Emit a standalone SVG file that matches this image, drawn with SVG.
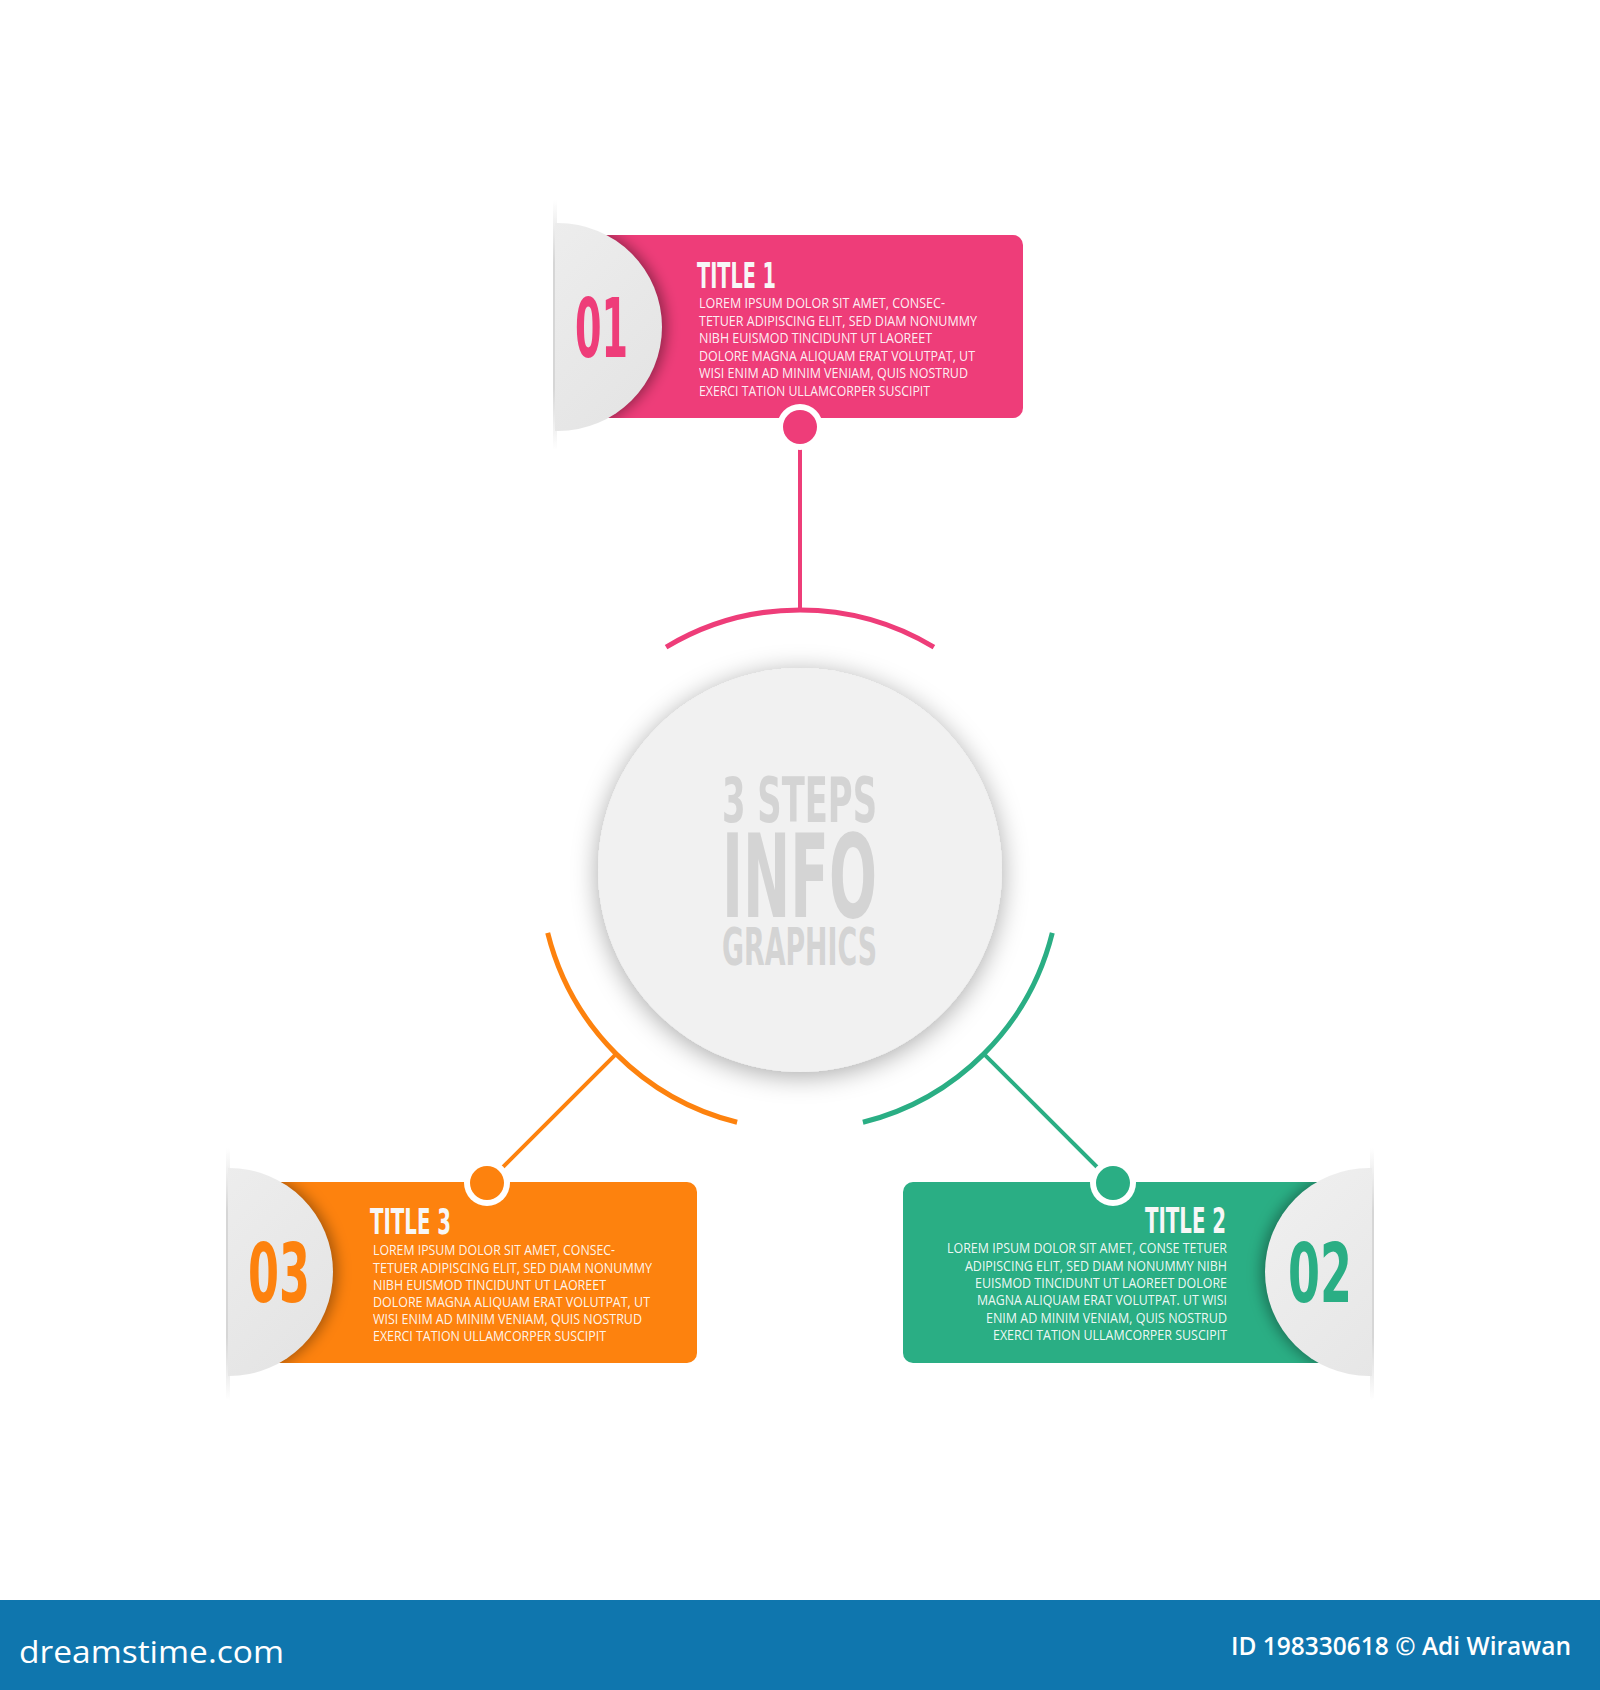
<svg xmlns="http://www.w3.org/2000/svg" width="1600" height="1690" viewBox="0 0 1600 1690">
<style>
.body{font-family:"Open Sans","Liberation Sans",sans-serif;font-size:15px;fill:#ffffff;fill-opacity:0.93}
.title{font-family:"DejaVu Sans Condensed","DejaVu Sans",sans-serif;font-weight:bold;font-size:35px;fill:#f7f7f7}
.num{font-family:"DejaVu Sans Condensed","DejaVu Sans",sans-serif;font-weight:bold;font-size:82px}
.ctr{font-family:"DejaVu Sans Condensed","DejaVu Sans",sans-serif;font-weight:bold;fill:#d4d4d4}
.arc{fill:none;stroke-width:5;stroke-linecap:butt}
.lnk{stroke-width:4;fill:none}
.ring{fill:#ffffff}
.disc{fill:url(#discGrad)}
.strip{fill:url(#stripGrad)}
.pink{fill:#ee3d79}
.orange{fill:#fd820e}
.green{fill:#2aae84}
</style>
<defs>
<linearGradient id="stripGrad" x1="0" y1="0" x2="0" y2="1">
<stop offset="0" stop-color="#ffffff"/>
<stop offset="0.25" stop-color="#d6d6d6"/>
<stop offset="0.75" stop-color="#d6d6d6"/>
<stop offset="1" stop-color="#ffffff"/>
</linearGradient>
<linearGradient id="discGrad" x1="0" y1="0" x2="1" y2="1">
<stop offset="0" stop-color="#f0f0f0"/>
<stop offset="1" stop-color="#e3e3e3"/>
</linearGradient>
<filter id="blur6" x="-30%" y="-30%" width="160%" height="160%">
<feGaussianBlur stdDeviation="7"/>
</filter>
<filter id="ctrShadow" x="-30%" y="-30%" width="160%" height="160%">
<feDropShadow dx="0" dy="4" stdDeviation="13" flood-color="#000000" flood-opacity="0.34"/>
</filter>
<clipPath id="clipBox1"><rect x="590" y="235" width="433" height="183" rx="10"/></clipPath>
<clipPath id="clipDisc1"><rect x="555" y="180" width="200" height="300"/></clipPath>
<clipPath id="clipBox3"><rect x="262" y="1182" width="435" height="181" rx="10"/></clipPath>
<clipPath id="clipDisc3"><rect x="228" y="1130" width="200" height="300"/></clipPath>
<clipPath id="clipBox2"><rect x="903" y="1182" width="433" height="181" rx="10"/></clipPath>
<clipPath id="clipDisc2"><rect x="1172" y="1130" width="200" height="300"/></clipPath>
</defs>
<rect x="0" y="0" width="1600" height="1690" fill="#ffffff"/>

<g id="center">
<circle cx="800" cy="870" r="202" fill="#f1f1f1" filter="url(#ctrShadow)"/>
<text class="ctr" x="722" y="822" font-size="62" textLength="155" lengthAdjust="spacingAndGlyphs">3 STEPS</text>
<text class="ctr" x="722" y="917" font-size="115" textLength="155" lengthAdjust="spacingAndGlyphs">INFO</text>
<text class="ctr" x="722" y="965" font-size="51" textLength="155" lengthAdjust="spacingAndGlyphs">GRAPHICS</text>
</g>

<g id="step1">
<rect class="pink" x="590" y="235" width="433" height="183" rx="10"/>
<g clip-path="url(#clipBox1)"><circle cx="562" cy="327" r="104" fill="#000000" fill-opacity="0.4" filter="url(#blur6)"/></g>
<rect class="strip" x="553" y="200" width="4" height="250"/>
<circle class="disc" cx="558" cy="327" r="104" clip-path="url(#clipDisc1)"/>
<text class="num pink" x="575" y="357" textLength="53" lengthAdjust="spacingAndGlyphs">01</text>
<text class="title" x="697" y="288" textLength="79" lengthAdjust="spacingAndGlyphs">TITLE 1</text>
<text class="body" x="699" y="308" textLength="246" lengthAdjust="spacingAndGlyphs">LOREM IPSUM DOLOR SIT AMET, CONSEC-</text>
<text class="body" x="699" y="325.5" textLength="278" lengthAdjust="spacingAndGlyphs">TETUER ADIPISCING ELIT, SED DIAM NONUMMY</text>
<text class="body" x="699" y="343" textLength="233" lengthAdjust="spacingAndGlyphs">NIBH EUISMOD TINCIDUNT UT LAOREET</text>
<text class="body" x="699" y="360.5" textLength="276" lengthAdjust="spacingAndGlyphs">DOLORE MAGNA ALIQUAM ERAT VOLUTPAT, UT</text>
<text class="body" x="699" y="378" textLength="269" lengthAdjust="spacingAndGlyphs">WISI ENIM AD MINIM VENIAM, QUIS NOSTRUD</text>
<text class="body" x="699" y="395.5" textLength="231" lengthAdjust="spacingAndGlyphs">EXERCI TATION ULLAMCORPER SUSCIPIT</text>
</g>

<g id="step3">
<rect class="orange" x="262" y="1182" width="435" height="181" rx="10"/>
<g clip-path="url(#clipBox3)"><circle cx="233" cy="1272" r="104" fill="#000000" fill-opacity="0.35" filter="url(#blur6)"/></g>
<rect class="strip" x="226" y="1148" width="4" height="252"/>
<circle class="disc" cx="229" cy="1272" r="104" clip-path="url(#clipDisc3)"/>
<text class="num orange" x="248" y="1302" textLength="62" lengthAdjust="spacingAndGlyphs">03</text>
<text class="title" x="370" y="1234" textLength="81" lengthAdjust="spacingAndGlyphs">TITLE 3</text>
<text class="body" x="373" y="1255" textLength="242" lengthAdjust="spacingAndGlyphs">LOREM IPSUM DOLOR SIT AMET, CONSEC-</text>
<text class="body" x="373" y="1272.5" textLength="279" lengthAdjust="spacingAndGlyphs">TETUER ADIPISCING ELIT, SED DIAM NONUMMY</text>
<text class="body" x="373" y="1290" textLength="233" lengthAdjust="spacingAndGlyphs">NIBH EUISMOD TINCIDUNT UT LAOREET</text>
<text class="body" x="373" y="1307" textLength="277" lengthAdjust="spacingAndGlyphs">DOLORE MAGNA ALIQUAM ERAT VOLUTPAT, UT</text>
<text class="body" x="373" y="1324" textLength="269" lengthAdjust="spacingAndGlyphs">WISI ENIM AD MINIM VENIAM, QUIS NOSTRUD</text>
<text class="body" x="373" y="1341" textLength="233" lengthAdjust="spacingAndGlyphs">EXERCI TATION ULLAMCORPER SUSCIPIT</text>
</g>

<g id="step2">
<rect class="green" x="903" y="1182" width="433" height="181" rx="10"/>
<g clip-path="url(#clipBox2)"><circle cx="1365" cy="1272" r="104" fill="#000000" fill-opacity="0.35" filter="url(#blur6)"/></g>
<rect class="strip" x="1370" y="1148" width="4" height="252"/>
<circle class="disc" cx="1369" cy="1272" r="104" clip-path="url(#clipDisc2)"/>
<text class="num green" x="1288" y="1302" textLength="64" lengthAdjust="spacingAndGlyphs">02</text>
<text class="title" x="1145" y="1233" textLength="81" lengthAdjust="spacingAndGlyphs">TITLE 2</text>
<text class="body" x="947" y="1253" textLength="280" lengthAdjust="spacingAndGlyphs">LOREM IPSUM DOLOR SIT AMET, CONSE TETUER</text>
<text class="body" x="965" y="1270.5" textLength="262" lengthAdjust="spacingAndGlyphs">ADIPISCING ELIT, SED DIAM NONUMMY NIBH</text>
<text class="body" x="975" y="1288" textLength="252" lengthAdjust="spacingAndGlyphs">EUISMOD TINCIDUNT UT LAOREET DOLORE</text>
<text class="body" x="977" y="1305" textLength="250" lengthAdjust="spacingAndGlyphs">MAGNA ALIQUAM ERAT VOLUTPAT. UT WISI</text>
<text class="body" x="986" y="1322.5" textLength="241" lengthAdjust="spacingAndGlyphs">ENIM AD MINIM VENIAM, QUIS NOSTRUD</text>
<text class="body" x="993" y="1340" textLength="234" lengthAdjust="spacingAndGlyphs">EXERCI TATION ULLAMCORPER SUSCIPIT</text>
</g>

<g id="connectors">
<path class="arc" stroke="#ee3d79" d="M666.1,647.1 A260,260 0 0 1 933.9,647.1"/>
<path class="arc" stroke="#2aae84" d="M1052.3,932.9 A260,260 0 0 1 862.9,1122.3"/>
<path class="arc" stroke="#fd820e" d="M737.1,1122.3 A260,260 0 0 1 547.7,932.9"/>
<line class="lnk" stroke="#ee3d79" x1="800" y1="427" x2="800" y2="611"/>
<line class="lnk" stroke="#fd820e" x1="616.2" y1="1053.8" x2="487" y2="1183"/>
<line class="lnk" stroke="#2aae84" x1="983.8" y1="1053.8" x2="1113" y2="1183"/>
<circle class="ring" cx="800" cy="427" r="23"/>
<circle class="pink" cx="800" cy="427" r="17"/>
<circle class="ring" cx="487" cy="1183" r="23"/>
<circle class="orange" cx="487" cy="1183" r="17"/>
<circle class="ring" cx="1113" cy="1183" r="23"/>
<circle class="green" cx="1113" cy="1183" r="17"/>
</g>

<g id="footer">
<rect x="0" y="1600" width="1600" height="90" fill="#0f76ae"/>
<text x="19" y="1663" font-family="Open Sans, Liberation Sans, sans-serif" font-size="31" fill="#ffffff" textLength="265" lengthAdjust="spacingAndGlyphs">dreamstime.com</text>
<text x="1231" y="1655" font-family="Open Sans, Liberation Sans, sans-serif" font-weight="600" font-size="26" fill="#ffffff" textLength="340" lengthAdjust="spacingAndGlyphs">ID 198330618 © Adi Wirawan</text>
</g>
</svg>
